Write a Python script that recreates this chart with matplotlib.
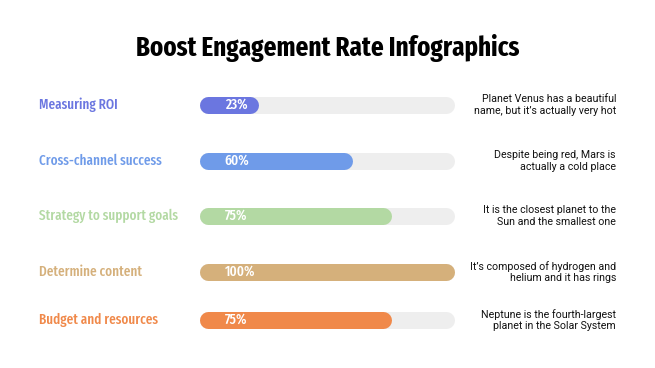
import matplotlib.pyplot as plt

# data
categories = ['Measuring ROI', 'Cross-channel success', 'Strategy to support goals',
              'Determine content', 'Budget and resources']
values = [23, 60, 75, 100, 75]
notes = ['Planet Venus has a beautiful\nname, but it\u2019s actually very hot',
         'Despite being red, Mars is\nactually a cold place',
         'It is the closest planet to the\nSun and the smallest one',
         'It\u2019s composed of hydrogen and\nhelium and it has rings',
         'Neptune is the fourth-largest\nplanet in the Solar System']

# style / layout
colors = ['#6b76e0', '#6f9be9', '#b3d9a3', '#d5b07b', '#f0894a']
track_color = '#eeeeee'
W, H = 655, 368
row_px = [105, 161, 216, 272, 320]   # row centres, pixels from top
bar_left, bar_width = 199.5, 255.5     # pixels
bar_h = 17                             # pixels

cond = ['Fira Sans Extra Condensed', 'DejaVu Sans']

fig = plt.figure(figsize=(W / 100, H / 100), dpi=100)
fig.patch.set_facecolor('white')

ax = fig.add_axes([bar_left / W, 0, bar_width / W, 1])
ax.set_xlim(0, 100)
ax.set_ylim(H, 0)
ax.axis('off')

lw = bar_h * 72 / 100
r = (bar_h / 2) / bar_width * 100  # cap radius in data units

for i, (cat, v, note, c) in enumerate(zip(categories, values, notes, colors)):
    y = row_px[i]
    ax.plot([r, 100 - r], [y, y], color=track_color, lw=lw,
            solid_capstyle='round')
    ax.plot([r, v - r], [y, y], color=c, lw=lw, solid_capstyle='round')
    ax.text(9.8, y, f'{v}%', color='white', fontsize=10.5, fontweight=500,
            family=cond, va='center', ha='left')

    fy = 1 - y / H
    fig.text(39 / W, fy, cat, color=c, fontsize=10.3, fontweight=500,
             family=cond, va='center', ha='left')
    fig.text(616 / W, fy, note, color='#111111', fontsize=7.7,
             family=['Roboto', 'DejaVu Sans'], va='center', ha='right',
             multialignment='right', linespacing=1.2)

fig.text(0.5, 1 - 48 / H, 'Boost Engagement Rate Infographics', color='black',
         fontsize=19.5, fontweight='bold', family=cond, ha='center', va='center')

fig.savefig('out.png', dpi=100, facecolor='white')
